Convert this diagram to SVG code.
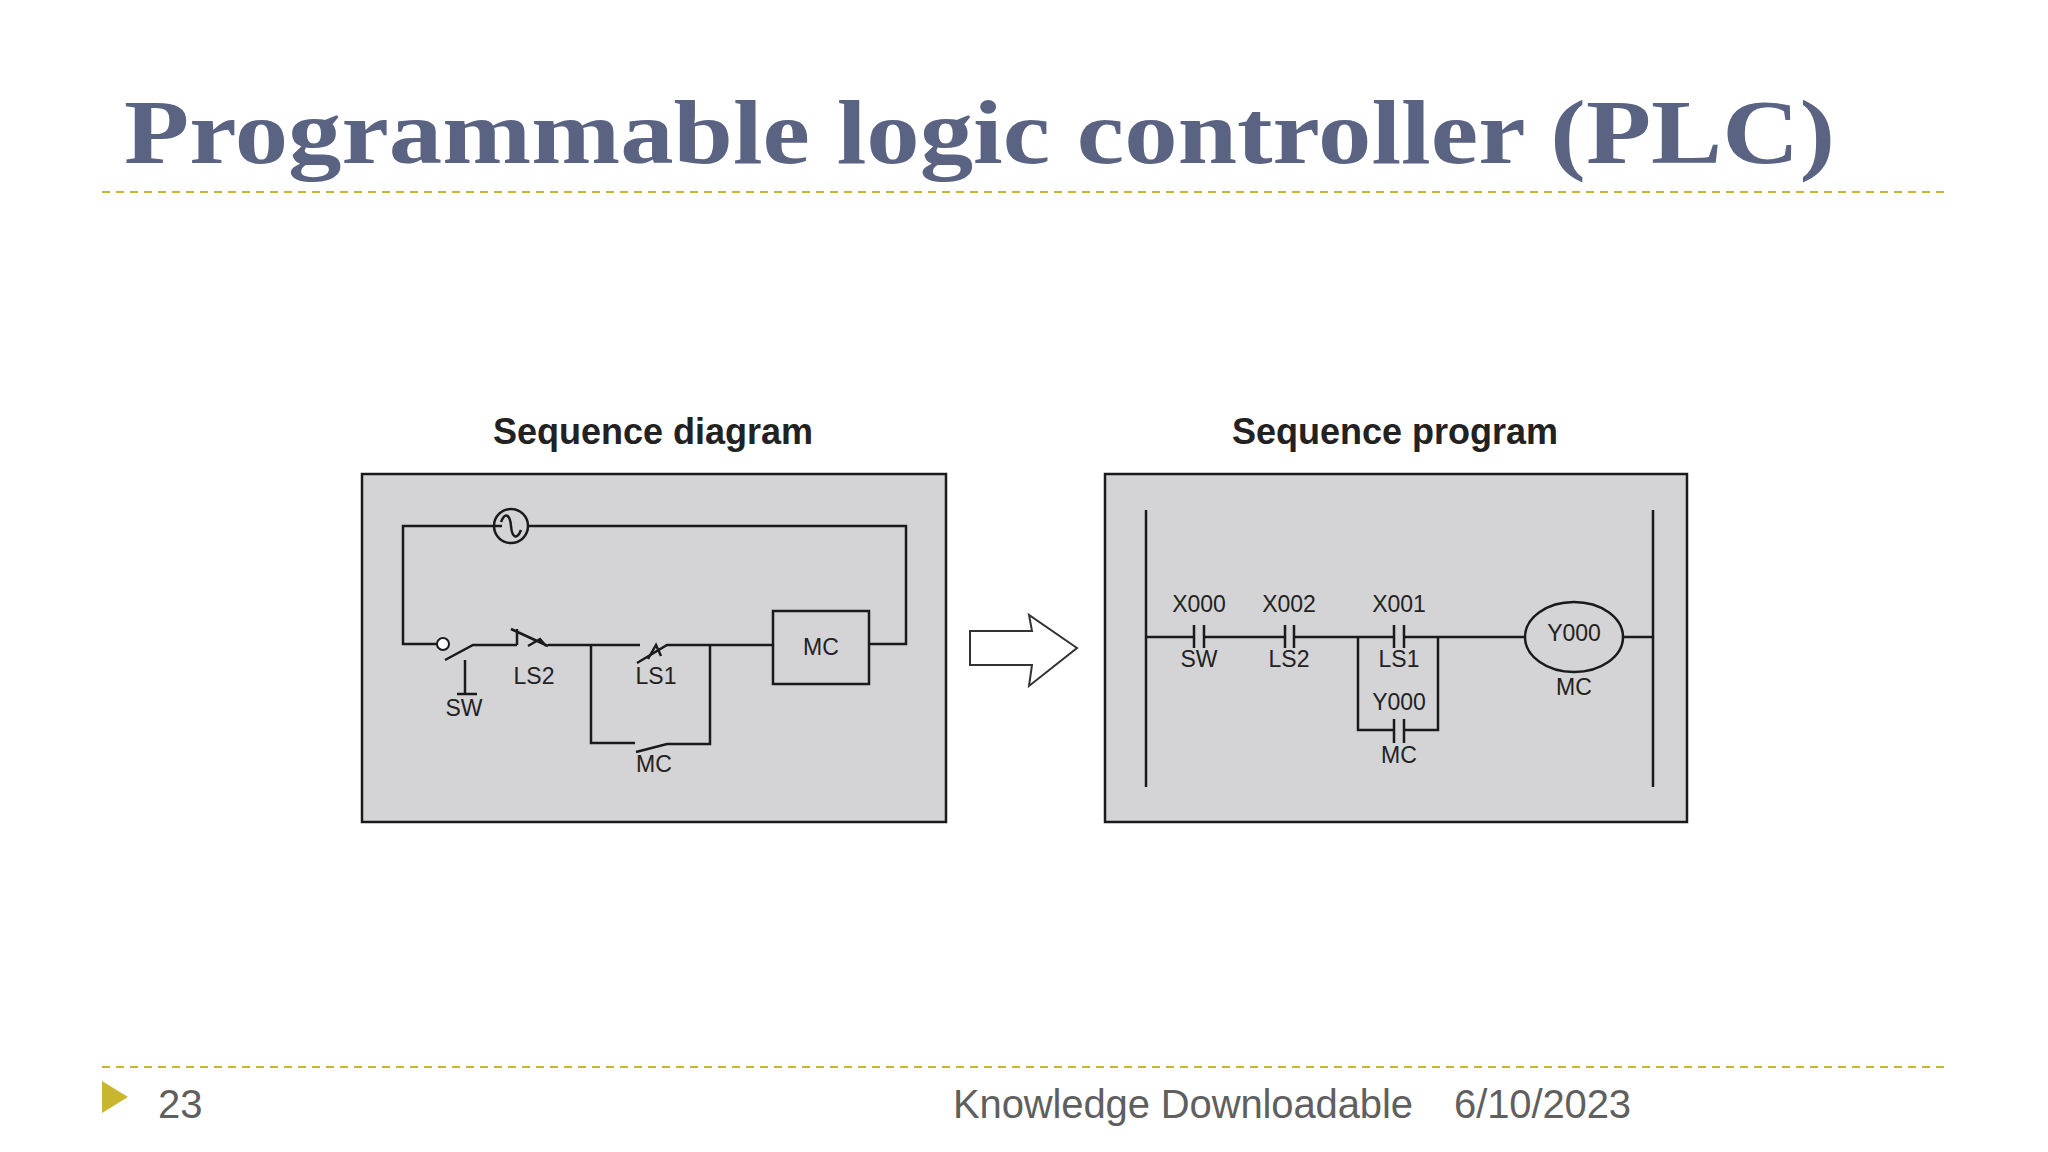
<svg xmlns="http://www.w3.org/2000/svg" width="2048" height="1152" viewBox="0 0 2048 1152">
<style>
.w{fill:none;stroke:#1a1a1a;stroke-width:2.5}
.lb{font-family:"Liberation Sans",Arial,sans-serif;font-size:23px;fill:#222;text-anchor:middle;dominant-baseline:central}
.hd{font-family:"Liberation Sans",Arial,sans-serif;font-size:36px;fill:#222;text-anchor:middle;font-weight:bold}
.ft{font-family:"Liberation Sans",Arial,sans-serif;font-size:40px;fill:#5f5f5f}
.dash{stroke:#c9b52e;stroke-width:2;stroke-dasharray:8 6}
</style>
<rect width="2048" height="1152" fill="#fff"/>
<text x="124" y="163" font-family="Liberation Serif,serif" font-weight="bold" font-size="92" fill="#5a6382" textLength="1711" lengthAdjust="spacingAndGlyphs">Programmable logic controller (PLC)</text>
<line class="dash" x1="102" y1="192" x2="1946" y2="192"/>
<line class="dash" x1="102" y1="1067" x2="1946" y2="1067"/>
<polygon points="102,1081 128,1097 102,1113" fill="#c9b52e"/>
<text class="ft" x="158" y="1118">23</text>
<text class="ft" x="953" y="1118" textLength="460">Knowledge Downloadable</text>
<text class="ft" x="1454" y="1118" textLength="177">6/10/2023</text>
<text class="hd" x="653" y="444">Sequence diagram</text>
<text class="hd" x="1395" y="444">Sequence program</text>

<g id="panel-left">
<rect x="362" y="474" width="584" height="348" fill="#d4d3d6" stroke="#1a1a1a" stroke-width="2.5"/>
</g>
<g id="panel-right">
<rect x="1105" y="474" width="582" height="348" fill="#d4d3d6" stroke="#1a1a1a" stroke-width="2.5"/>
</g>
<g id="ac-source">
<circle class="w" cx="511" cy="526" r="17"/>
<path class="w" d="M501,522 C505,512 510,514 511,526 C512,538 517,540 521,530"/>
</g>
<g id="mc-coil">
<rect class="w" x="773" y="611" width="96" height="73"/>
<text class="lb" x="821" y="647">MC</text>
</g>
<g id="connectors">
<path class="w" d="M502,526 H403 V644 H437"/>
<path class="w" d="M528,526 H906 V644 H869"/>
<circle cx="443" cy="644" r="6" fill="#fff" stroke="#1a1a1a" stroke-width="2"/>
<path class="w" d="M445,660 L473,645 H517 M517,629 V645 M511,629 L548,646 M528,646 L540,639 L546,646 M548,645 H640 M637,663 L667,645 H773"/>
<path class="w" d="M648,659 L656,645 L661,656"/>
<path class="w" d="M465,660 V694 M457,694 H477"/>
<path class="w" d="M591,645 V743 H635 M636,752 L667,744 H710 V645"/>
<path class="w" d="M1146,510 V787 M1653,510 V787"/>
<path class="w" d="M1146,637 H1194 M1204,637 H1285 M1294,637 H1394 M1404,637 H1525 M1623,637 H1653"/>
<path class="w" d="M1194,625 V648 M1204,625 V648 M1285,625 V648 M1294,625 V648 M1394,625 V648 M1404,625 V648"/>
<path class="w" d="M1358,637 V730 H1394 M1404,730 H1438 V637 M1394,719 V743 M1404,719 V743"/>
<ellipse class="w" cx="1574" cy="637" rx="49" ry="35"/>
</g>
<g id="labels">
<text class="lb" x="464" y="708">SW</text>
<text class="lb" x="534" y="676">LS2</text>
<text class="lb" x="656" y="676">LS1</text>
<text class="lb" x="654" y="764">MC</text>
<text class="lb" x="1199" y="604">X000</text>
<text class="lb" x="1199" y="659">SW</text>
<text class="lb" x="1289" y="604">X002</text>
<text class="lb" x="1289" y="659">LS2</text>
<text class="lb" x="1399" y="604">X001</text>
<text class="lb" x="1399" y="659">LS1</text>
<text class="lb" x="1399" y="702">Y000</text>
<text class="lb" x="1399" y="755">MC</text>
<text class="lb" x="1574" y="633">Y000</text>
<text class="lb" x="1574" y="687">MC</text>
</g>
<g id="arrow">
<polygon points="970,631 1032,631 1029,615 1077,648 1029,686 1032,665 970,665" fill="#fff" stroke="#333" stroke-width="2"/>
</g>
</svg>
